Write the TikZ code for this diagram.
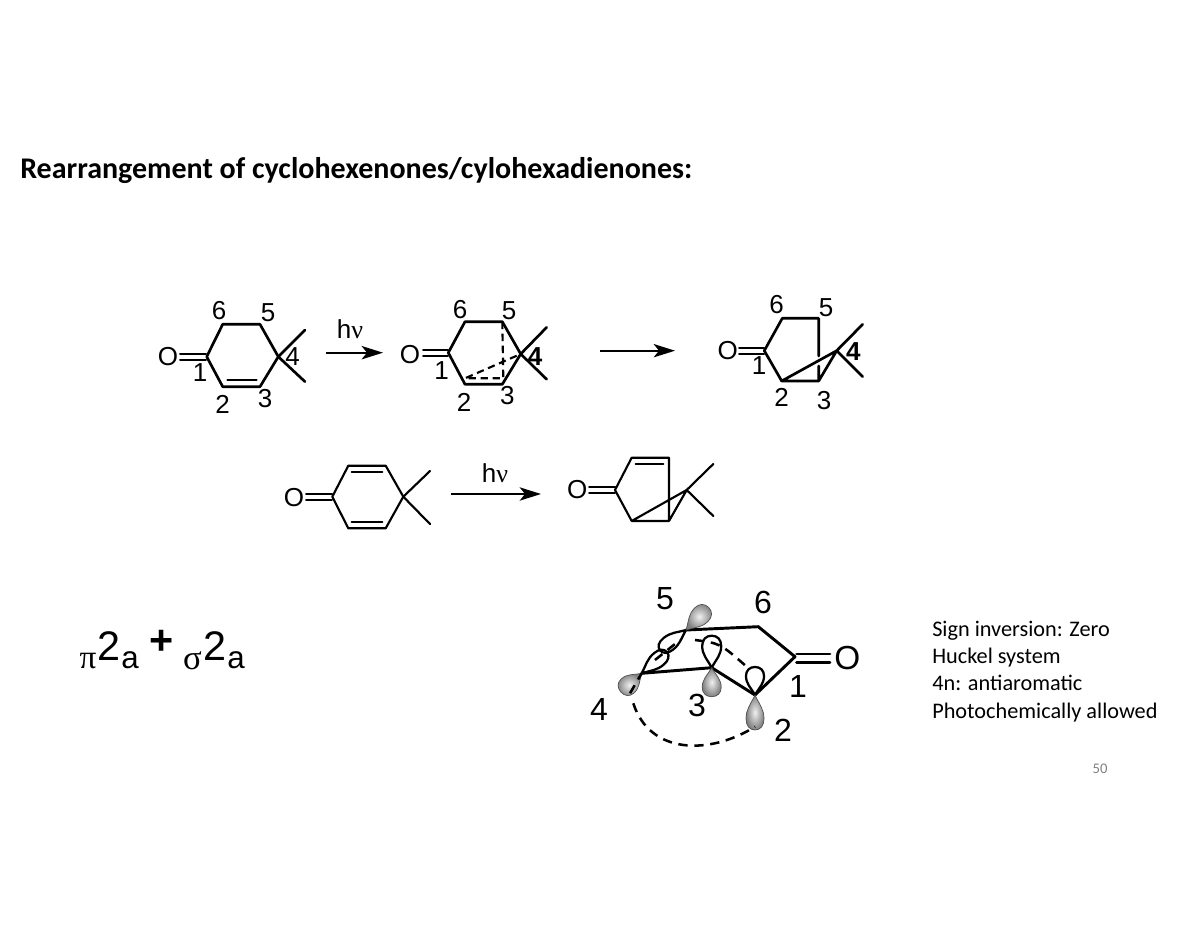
\documentclass[tikz,border=0pt]{standalone}
\usepackage{fontspec}
\setmainfont{Liberation Sans}
\newfontfamily\slidefont{Carlito}
\newfontfamily\greekfont{Liberation Serif}
\usetikzlibrary{arrows.meta,shadings}
\newcommand{\placeatoms}[2]{\foreach \n/\px/\py in {#2}{\coordinate (#1\n) at (\px,\py);}}
\newcommand{\orblobe}[5]{% pivot, angle, length, width, style
  \path[#5,shift={(#1)},rotate=#2]
    (0,0) .. controls ({.28*#3},{.25*#4}) and ({.4*#3},{.5*#4}) .. ({.68*#3},{.5*#4})
    .. controls ({.88*#3},{.5*#4}) and (#3,{.3*#4}) .. (#3,0)
    .. controls (#3,{-.3*#4}) and ({.88*#3},{-.5*#4}) .. ({.68*#3},{-.5*#4})
    .. controls ({.4*#3},{-.5*#4}) and ({.28*#3},{-.25*#4}) .. (0,0) -- cycle;}
\tikzset{
  x=0.75pt,y=-0.75pt,
  bond/.style={line width=2pt,line cap=round,line join=round},
  thinbond/.style={line width=1.5pt,line cap=round},
  dashbond/.style={line width=1.6pt,dash pattern=on 5.5pt off 3.5pt},
  obond/.style={line width=2.2pt,line cap=round,line join=round},
  odash/.style={line width=1.9pt,dash pattern=on 7pt off 5pt},
  rarrow/.style={line width=1.7pt,-{Stealth[length=16pt,width=10pt,inset=4pt]}},
  lab/.style={font=\fontsize{19.5}{21}\selectfont,inner sep=0pt},
  blab/.style={font=\fontsize{24}{26}\selectfont,inner sep=0pt},
  shlobe/.style={draw=black!70,line width=.5pt,inner color=white!88!gray,outer color=black!50},
  whlobe/.style={draw=black,line width=1.7pt},
}
\begin{document}
\begin{tikzpicture}
\useasboundingbox (0,0) rectangle (1200,927);
\fill[white] (0,0) rectangle (1200,927);

\node[anchor=base west,inner sep=0pt,font=\slidefont\bfseries\fontsize{22.5}{25}\selectfont] (title) at (20,178.5) {Rearrangement of cyclohexenones/cylohexadienones:};

% --- molecule A
\placeatoms{a}{1/206.7/356.7,2/222.7/386.7,3/260/386.7,4/278.3/356.7,5/260/324.3,6/222.7/324.3,m/305/330,n/305/381.7,p/180/354,q/180/360,r/206/354,s/206/360,t/227.3/380,u/256.7/380}
\draw[bond] (a1)--(a2)--(a3)--(a4)--(a5)--(a6)--cycle;
\draw[bond] (a4)--(am) (a4)--(an);
\draw[thinbond] (ap)--(ar) (aq)--(as);
\draw[thinbond] (at)--(au);
\node[lab] (aO) at (168,357) {O};
\node[lab] (al1) at (200,372.7) {1};
\node[lab] (al2) at (222.7,404) {2};
\node[lab] (al3) at (265,399) {3};
\node[lab] (al4) at (292.7,357) {4};
\node[lab] (al5) at (268,313) {5};
\node[lab] (al6) at (219,310.7) {6};

% --- arrow 1
\coordinate (r1s) at (326,352.7); \coordinate (r1e) at (383,352.7);
\draw[rarrow] (r1s)--(r1e);
\node[lab] (hv1) at (350,329) {h\greekfont ν};

% --- molecule B
\placeatoms{b}{1/448.3/352.7,2/465/384.3,3/502.3/384.3,4/520.7/354,5/502.3/321.7,6/465/321.7,m/546.7/327.3,n/546.7/379.3,p/423/350,q/423/356,r/448/350,s/448/356,d/503.3/378.3,e/465/378.3}
\draw[bond] (b1)--(b2)--(b3)--(b4)--(b5)--(b6)--cycle;
\draw[bond] (b4)--(bm) (b4)--(bn);
\draw[thinbond] (bp)--(br) (bq)--(bs);
\draw[dashbond] (b5)--(bd)--(be)--(b4);
\node[lab] (bO) at (410,355) {O};
\node[lab] (bl1) at (441.7,370.7) {1};
\node[lab] (bl2) at (464,402.7) {2};
\node[lab] (bl3) at (507.3,396) {3};
\node[lab,font=\fontsize{19.5}{21}\selectfont\bfseries] (bl4) at (535,356.7) {4};
\node[lab] (bl5) at (509,310.7) {5};
\node[lab] (bl6) at (460,309.3) {6};

% --- arrow 2
\coordinate (r2s) at (600,350.7); \coordinate (r2e) at (675,350.7);
\draw[rarrow,line width=1.3pt] (r2s)--(r2e);

% --- molecule C
\placeatoms{c}{1/764.3/350.7,2/781.7/381,3/818.7/381,4/836.7/350.7,5/818.7/318.3,6/782.3/318.3,m/862.7/324.3,n/862.7/376.7,p/739/348,q/739/354,r/764/348,s/764/354,g/818.7/356,h/818.7/366}
\draw[bond] (c2)--(c1)--(c6)--(c5)--(cg);
\draw[bond] (ch)--(c3)--(c2)--(c4)--(c3);
\draw[bond] (c4)--(cm) (c4)--(cn);
\draw[thinbond] (cp)--(cr) (cq)--(cs);
\node[lab] (cO) at (727.7,351) {O};
\node[lab] (cl1) at (759,366) {1};
\node[lab] (cl2) at (781.7,397.3) {2};
\node[lab] (cl3) at (824,401) {3};
\node[lab,font=\fontsize{19.5}{21}\selectfont\bfseries] (cl4) at (853.3,351.7) {4};
\node[lab] (cl5) at (826,308) {5};
\node[lab] (cl6) at (776.7,305) {6};

% --- molecule D
\placeatoms{d}{1/332.3/496.7,2/348.3/465.7,3/385.7/465.7,4/403.3/496.7,5/385.7/528.3,6/348.3/528.3,m/430/471,n/430/524,p/306/493.7,q/306/499.7,r/332/493.7,s/332/499.7,t/351.7/471.7,u/382.3/471.7,v/351.7/522.3,w/382.3/522.3}
\draw[bond,line width=1.6pt] (d1)--(d2)--(d3)--(d4)--(d5)--(d6)--cycle;
\draw[bond,line width=1.6pt] (d4)--(dm) (d4)--(dn);
\draw[thinbond] (dp)--(dr) (dq)--(ds) (dt)--(du) (dv)--(dw);
\node[lab] (dO) at (294,497.7) {O};

% --- arrow 3
\coordinate (r3s) at (451,494); \coordinate (r3e) at (541,494);
\draw[rarrow,line width=1.3pt] (r3s)--(r3e);
\node[lab] (hv2) at (495,473.3) {h\greekfont ν};

% --- molecule E
\placeatoms{e}{1/615/490,2/631.7/521,3/669/521,4/686.7/490,5/669/457.7,6/631.7/457.7,m/713.3/464,n/713.3/516,p/589/487,q/589/493,r/615/487,s/615/493,t/635.7/464.3,u/663.3/464.3}
\draw[bond,line width=1.6pt] (e2)--(e1)--(e6)--(e5)--(e3)--(e2)--(e4)--(e3);
\draw[bond,line width=1.6pt] (e4)--(em) (e4)--(en);
\draw[thinbond] (ep)--(er) (eq)--(es) (et)--(eu);
\node[lab] (eO) at (577.3,490) {O};

% --- pi2a + sigma2a
\node[inner sep=0pt,font=\greekfont\fontsize{25}{27}\selectfont] (pi) at (88,661) {π};
\node[inner sep=0pt,font=\fontsize{31}{33}\selectfont] (two1) at (109.3,646) {2};
\node[inner sep=0pt,font=\fontsize{23.5}{26}\selectfont] (suba) at (130,660) {a};
\node[inner sep=0pt,font=\bfseries\fontsize{31}{33}\selectfont] (plus) at (161.7,642) {+};
\node[inner sep=0pt,font=\greekfont\fontsize{26}{28}\selectfont] (sig) at (192.5,661) {σ};
\node[inner sep=0pt,font=\fontsize{31}{33}\selectfont] (two2) at (215,646) {2};
\node[inner sep=0pt,font=\fontsize{23.5}{26}\selectfont] (subb) at (236,660) {a};

% --- orbital picture
\placeatoms{f}{1/795/656.7,2/755/695,3/711.7/667.7,4/641.7/673.3,5/686/630,6/758.3/626.7,p/796.7/654,q/796.7/662.7,r/830/654,s/830/662.7,x/695/640,y/720/643.3,z/746.7/666.7,a/633.3/703.3,b/696.7/745.7,c/755/726.7,d/655/660,e/680/640,g/630/693.3}
\draw[obond] (f4)--(f3)--(f2)--(f1)--(f6)--(f5);
\draw[obond] (fp)--(fr) (fq)--(fs);
\orblobe{f5}{218}{33}{15}{whlobe}
\orblobe{f4}{40}{33}{15}{whlobe}
\orblobe{f3}{90}{32}{19}{whlobe}
\orblobe{f2}{90}{28}{18}{whlobe}
\orblobe{f5}{45}{32}{19}{shlobe}
\orblobe{f4}{222}{28}{19}{shlobe}
\orblobe{f3}{-90}{29}{19}{shlobe}
\orblobe{f2}{-90}{35}{18}{shlobe}
\draw[odash] (fx) .. controls (fy) .. (fz);
\draw[odash] (fa) .. controls (650,755) and (710,755) .. (fc);
\draw[odash] (fd)--(fe);
\draw[odash] (fg)--(f4);
\node[blab,font=\fontsize{25}{27}\selectfont] (fO) at (847.3,658.3) {O};
\node[blab] (fl1) at (798,686.7) {1};
\node[blab] (fl2) at (783,730) {2};
\node[blab] (fl3) at (697,705) {3};
\node[blab] (fl4) at (599,709) {4};
\node[blab] (fl5) at (665,599) {5};
\node[blab] (fl6) at (763,602) {6};

% --- side text
\node[anchor=north west,align=left,inner sep=0pt,font=\slidefont\fontsize{16.7}{20.5}\selectfont] (note) at (932,620.5)
  {Sign inversion: Zero\\Huckel system\\4n: antiaromatic\\Photochemically allowed};
\node[inner sep=0pt,text=gray,font=\slidefont\fontsize{11}{12}\selectfont] (page) at (1100,769) {50};
\end{tikzpicture}
\end{document}
